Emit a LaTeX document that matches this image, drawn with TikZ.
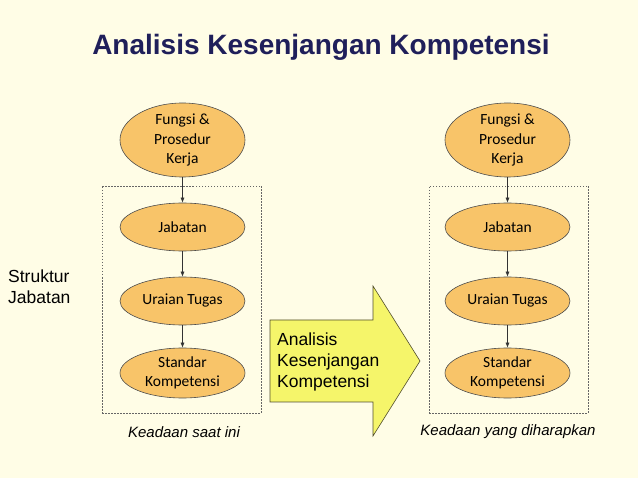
\documentclass[tikz,border=0pt]{standalone}
\usepackage{fontspec}
\setmainfont{Liberation Sans}
\newfontfamily\calib{Carlito}
\usetikzlibrary{arrows.meta,shapes.geometric}
\definecolor{bg}{HTML}{FFFDE6}
\definecolor{ell}{HTML}{F8C469}
\definecolor{ttl}{HTML}{1F1F5A}
\definecolor{arr}{HTML}{F5F56A}
\begin{document}
\begin{tikzpicture}[x=1pt,y=-1pt,
  ebox/.style={ellipse,draw=black!70,fill=ell,line width=0.6pt,minimum width=125,align=center,font=\calib\fontsize{15.5}{19.5}\selectfont,inner sep=0pt},
  conn/.style={-{Latex[length=5pt,width=4pt]},black!80,line width=0.6pt},
  dbox/.style={draw=black!60,dashed,dash pattern=on 1.5pt off 1.5pt,line width=0.5pt},
  lab/.style={font=\itshape\fontsize{15}{18}\selectfont}]
\fill[bg] (0,0) rectangle (638,478);
\useasboundingbox (0,0) rectangle (638,478);
\node[font=\bfseries\fontsize{28}{32}\selectfont,text=ttl] (title) at (321,47) {Analisis Kesenjangan Kompetensi};
\node[dbox,minimum width=159,minimum height=227,inner sep=0pt] (boxL) at (181.5,299.5) {};
\node[dbox,minimum width=159,minimum height=227,inner sep=0pt] (boxR) at (508.5,299.5) {};
\foreach \s/\x in {L/182.5,R/507.5}{
  \node[ebox,minimum height=74] (f\s) at (\x,140) {Fungsi \&\\Prosedur\\Kerja};
  \node[ebox,minimum height=48] (j\s) at (\x,227) {Jabatan};
  \node[ebox,minimum height=48] (u\s) at (\x,301) {Uraian Tugas};
  \node[ebox,minimum height=50] (s\s) at (\x,373) {Standar\\Kompetensi};
  \draw[conn] (f\s) -- (j\s);
  \draw[conn] (j\s) -- (u\s);
  \draw[conn] (u\s) -- (s\s);
}
\draw[fill=arr,draw=black!55!olive,line width=0.6pt] (270,320) -- (373,320) -- (373,286) -- (420,361) -- (373,436) -- (373,402) -- (270,402) -- cycle;
\node[anchor=west,align=left,font=\fontsize{17.5}{21}\selectfont,inner sep=0pt] (atext) at (277,362) {Analisis\\Kesenjangan\\Kompetensi};
\node[anchor=west,align=left,font=\fontsize{17.5}{21}\selectfont,inner sep=0pt] (sj) at (8,287) {Struktur\\Jabatan};
\node[lab] (kL) at (184,432) {Keadaan saat ini};
\node[lab] (kR) at (508,432) {Keadaan yang diharapkan};
\end{tikzpicture}
\end{document}
